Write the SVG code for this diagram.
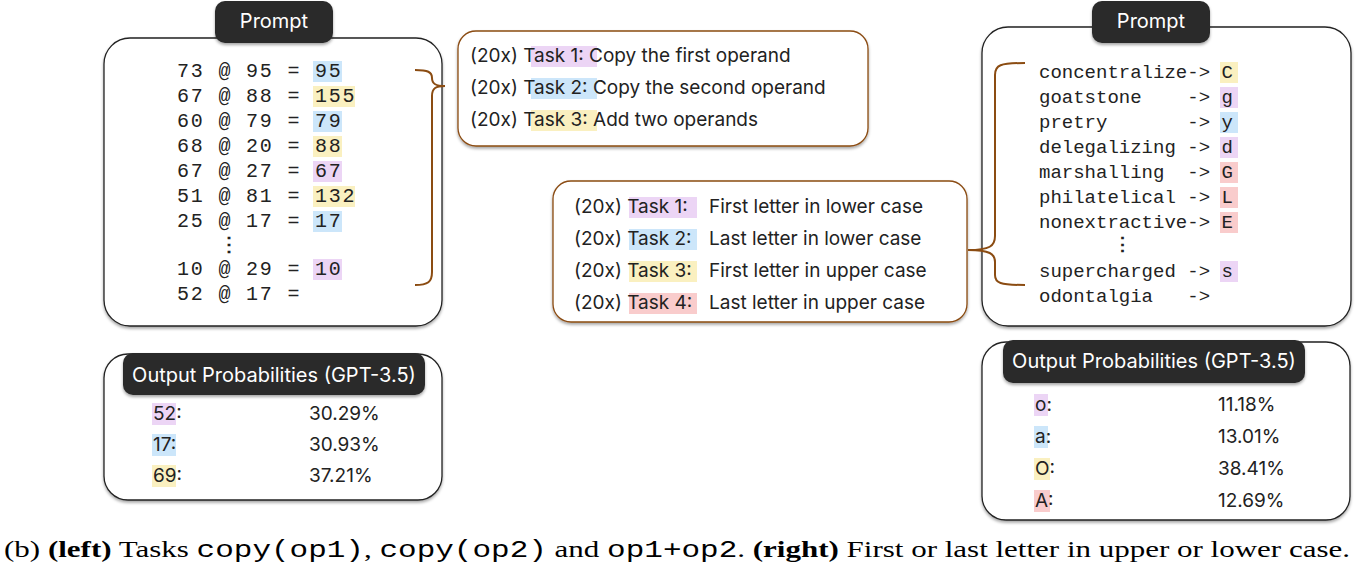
<svg xmlns="http://www.w3.org/2000/svg" width="1355" height="584" viewBox="0 0 1355 584">
<defs>
<filter id="sh" x="-5%" y="-5%" width="110%" height="115%"><feDropShadow dx="0" dy="2" stdDeviation="1.5" flood-color="#000" flood-opacity="0.35"/></filter>
</defs>
<style>
.box{fill:#fff;stroke:#222;stroke-width:1.3;filter:url(#sh)}
.tbox{fill:#fff;stroke:#8b4c12;stroke-width:1.3;filter:url(#sh)}
.pill{fill:#2b2b2b;filter:url(#sh)}
.pt{font-family:Inter,"Liberation Sans",sans-serif;font-size:20px;fill:#fff;text-anchor:middle}
.m{font-family:"Liberation Mono",monospace;font-size:20px;fill:#222}
.ml{letter-spacing:1.8px}
.s{font-family:Inter,"Liberation Sans",sans-serif;font-size:19px;fill:#222}
.br{fill:none;stroke:#8b4c12;stroke-width:2}
.pu{fill:#ecd5f5}.bl{fill:#cce6fa}.ye{fill:#faf0c0}.re{fill:#f9cccc}
.cap{font-family:"Liberation Serif",serif;font-size:23px;fill:#000}
.cm{font-family:"Liberation Mono",monospace}
</style>
<g id="left-prompt">
<rect class="box" x="104" y="38" width="338" height="288" rx="26"/>
<rect class="pill" x="215" y="1" width="118" height="42" rx="10"/>
<text class="pt" x="274" y="28">Prompt</text>
<rect class="bl" x="313" y="61" width="29" height="21"/>
<rect class="ye" x="313" y="86" width="42" height="21"/>
<rect class="bl" x="313" y="111" width="29" height="21"/>
<rect class="ye" x="313" y="136" width="29" height="21"/>
<rect class="pu" x="313" y="161" width="29" height="21"/>
<rect class="ye" x="313" y="186" width="42" height="21"/>
<rect class="bl" x="313" y="211" width="29" height="21"/>
<rect class="pu" x="313" y="259" width="29" height="21"/>
<text class="m ml" x="177" y="77">73 @ 95 = 95</text>
<text class="m ml" x="177" y="102">67 @ 88 = 155</text>
<text class="m ml" x="177" y="127">60 @ 79 = 79</text>
<text class="m ml" x="177" y="152">68 @ 20 = 88</text>
<text class="m ml" x="177" y="177">67 @ 27 = 67</text>
<text class="m ml" x="177" y="202">51 @ 81 = 132</text>
<text class="m ml" x="177" y="227">25 @ 17 = 17</text>
<text class="m" x="219" y="251" font-weight="bold">⋮</text>
<text class="m ml" x="177" y="275">10 @ 29 = 10</text>
<text class="m ml" x="177" y="300">52 @ 17 =</text>
</g>
<g id="left-tasks">
<rect class="tbox" x="458" y="31" width="410" height="115" rx="18"/>
<rect class="pu" x="531" y="46" width="66" height="21"/>
<rect class="bl" x="531" y="78" width="66" height="21"/>
<rect class="ye" x="531" y="110" width="66" height="21"/>
<text class="s" x="470" y="62">(20x) Task 1: Copy the first operand</text>
<text class="s" x="470" y="94">(20x) Task 2: Copy the second operand</text>
<text class="s" x="470" y="126">(20x) Task 3: Add two operands</text>
</g>
<g id="left-output">
<rect class="box" x="104" y="354" width="338" height="146" rx="24"/>
<rect class="pill" x="123" y="353" width="302" height="42" rx="10"/>
<text class="pt" x="274" y="382">Output Probabilities (GPT-3.5)</text>
<rect class="pu" x="152" y="403" width="24" height="22"/>
<rect class="bl" x="152" y="434" width="24" height="22"/>
<rect class="ye" x="152" y="465" width="24" height="22"/>
<text class="s" x="153" y="420">52:</text><text class="s" x="309" y="420">30.29%</text>
<text class="s" x="153" y="451">17:</text><text class="s" x="309" y="451">30.93%</text>
<text class="s" x="153" y="482">69:</text><text class="s" x="309" y="482">37.21%</text>
</g>
<g id="right-tasks">
<rect class="tbox" x="553" y="181" width="414" height="141" rx="18"/>
<rect class="pu" x="629" y="197" width="68" height="21"/>
<rect class="bl" x="629" y="229" width="68" height="21"/>
<rect class="ye" x="629" y="261" width="68" height="21"/>
<rect class="re" x="629" y="293" width="68" height="21"/>
<text class="s" x="574" y="213">(20x) Task 1:</text><text class="s" x="709" y="213">First letter in lower case</text>
<text class="s" x="574" y="245">(20x) Task 2:</text><text class="s" x="709" y="245">Last letter in lower case</text>
<text class="s" x="574" y="277">(20x) Task 3:</text><text class="s" x="709" y="277">First letter in upper case</text>
<text class="s" x="574" y="309">(20x) Task 4:</text><text class="s" x="709" y="309">Last letter in upper case</text>
</g>
<g id="right-prompt">
<rect class="box" x="982" y="27" width="369" height="299" rx="26"/>
<rect class="pill" x="1092" y="1" width="118" height="42" rx="10"/>
<text class="pt" x="1151" y="28">Prompt</text>
<rect class="ye" x="1220" y="62" width="18" height="21"/>
<rect class="pu" x="1220" y="87" width="18" height="21"/>
<rect class="bl" x="1220" y="112" width="18" height="21"/>
<rect class="pu" x="1220" y="137" width="18" height="21"/>
<rect class="re" x="1220" y="162" width="18" height="21"/>
<rect class="re" x="1220" y="187" width="18" height="21"/>
<rect class="re" x="1220" y="212" width="18" height="21"/>
<rect class="pu" x="1220" y="261" width="18" height="21"/>
<g class="m" style="font-size:19px">
<text x="1039" y="78" xml:space="preserve">concentralize-> C</text>
<text x="1039" y="103" xml:space="preserve">goatstone    -> g</text>
<text x="1039" y="128" xml:space="preserve">pretry       -> y</text>
<text x="1039" y="153" xml:space="preserve">delegalizing -> d</text>
<text x="1039" y="178" xml:space="preserve">marshalling  -> G</text>
<text x="1039" y="203" xml:space="preserve">philatelical -> L</text>
<text x="1039" y="228" xml:space="preserve">nonextractive-> E</text>
<text x="1113" y="251" font-weight="bold">⋮</text>
<text x="1039" y="277" xml:space="preserve">supercharged -> s</text>
<text x="1039" y="302" xml:space="preserve">odontalgia   -></text>
</g>
</g>
<g id="right-output">
<rect class="box" x="982" y="342" width="368" height="178" rx="24"/>
<rect class="pill" x="1003" y="340" width="302" height="43" rx="10"/>
<text class="pt" x="1154" y="368">Output Probabilities (GPT-3.5)</text>
<rect class="pu" x="1034" y="394" width="14" height="22"/>
<rect class="bl" x="1034" y="426" width="14" height="22"/>
<rect class="ye" x="1034" y="458" width="16" height="22"/>
<rect class="re" x="1034" y="490" width="16" height="22"/>
<text class="s" x="1035" y="411">o:</text><text class="s" x="1218" y="411">11.18%</text>
<text class="s" x="1035" y="443">a:</text><text class="s" x="1218" y="443">13.01%</text>
<text class="s" x="1035" y="475">O:</text><text class="s" x="1218" y="475">38.41%</text>
<text class="s" x="1035" y="507">A:</text><text class="s" x="1218" y="507">12.69%</text>
</g>
<g id="connectors">
<path class="br" d="M415,70 C428,70 432,72 432,78 C432,84 436,86 445,86 M445,86 C436,86 432,88 432,96 L432,272 C432,282 428,285 415,285"/>
<path class="br" d="M1025,63 C1000,63 995,65 995,75 L995,236 C995,246 990,250 968,250 M968,250 C990,250 995,254 995,262 L995,275 C995,283 1000,285 1025,285"/>
</g>
<text class="cap" x="4" y="557" textLength="1346" lengthAdjust="spacingAndGlyphs">(b) <tspan font-weight="bold">(left)</tspan> Tasks <tspan class="cm">copy(op1)</tspan>, <tspan class="cm">copy(op2)</tspan> and <tspan class="cm">op1+op2</tspan>. <tspan font-weight="bold">(right)</tspan> First or last letter in upper or lower case.</text>
</svg>
